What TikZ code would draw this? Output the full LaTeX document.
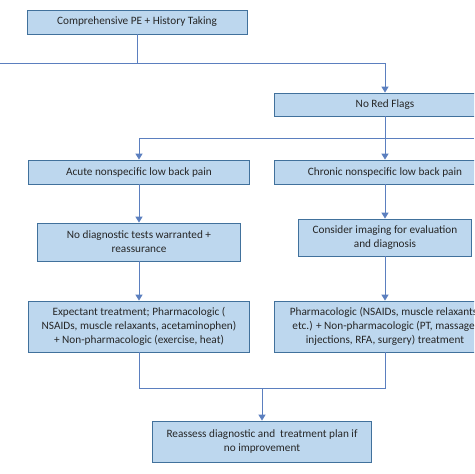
\documentclass[tikz,border=0pt]{standalone}
\usepackage{fontspec}
\setmainfont{Carlito}
\usetikzlibrary{arrows.meta}
\definecolor{boxfill}{HTML}{BDD7EE}
\definecolor{boxline}{HTML}{41719C}
\definecolor{flowline}{HTML}{5B7FBF}
\definecolor{boxtext}{HTML}{262626}

\begin{document}
\begin{tikzpicture}[x=0.03cm,y=-0.03cm,
  stepbox/.style={draw=boxline,fill=boxfill,line width=0.8pt,text=boxtext,
    font=\fontsize{9.6}{11.9}\selectfont,align=center,inner sep=0pt},
  flow/.style={draw=flowline,line width=0.7pt},
  arr/.style={flow,-{Triangle[length=5pt,width=6pt]}}]
  \useasboundingbox (0,0) rectangle (474,474);
  \clip (0,0) rectangle (474,474);

  % boxes
  \node[stepbox,minimum width=6.6cm,minimum height=0.72cm] (exam) at (137,22) {Comprehensive PE + History Taking};
  \node[stepbox,minimum width=6.66cm,minimum height=0.69cm] (nored) at (385,104.5) {No Red Flags};
  \node[stepbox,minimum width=6.63cm,minimum height=0.72cm] (acute) at (139,172) {Acute nonspecific low back pain};
  \node[stepbox,minimum width=6.66cm,minimum height=0.72cm] (chronic) at (385,172) {Chronic nonspecific low back pain};
  \node[stepbox,minimum width=6.09cm,minimum height=1.14cm] (nodiag) at (139,242) {No diagnostic tests warranted +\\reassurance};
  \node[stepbox,minimum width=5.19cm,minimum height=1.11cm] (imaging) at (385,237.5) {Consider imaging for evaluation\\and diagnosis};
  \node[stepbox,minimum width=6.63cm,minimum height=1.53cm] (expect) at (139,326.5) {Expectant treatment; Pharmacologic (\\NSAIDs, muscle relaxants, acetaminophen)\\+ Non-pharmacologic (exercise, heat)};
  \node[stepbox,minimum width=6.66cm,minimum height=1.53cm] (pharm) at (385,326.5) {Pharmacologic (NSAIDs, muscle relaxants,\\etc.) + Non-pharmacologic (PT, massage,\\injections, RFA, surgery) treatment};
  \node[stepbox,minimum width=6.57cm,minimum height=1.23cm] (reassess) at (262,441.5) {Reassess diagnostic and~ treatment plan if\\no improvement};

  % branch points
  \coordinate (splitA) at (137,63);
  \coordinate (edgeL) at (0,63);
  \coordinate (splitB) at (385,138);
  \coordinate (edgeR) at (474,138);
  \coordinate (merge) at (262,388);

  % connectors
  \draw[flow] (exam) -- (splitA);
  \draw[flow] (edgeL) -- (splitA);
  \draw[arr] (splitA) -| (nored);
  \draw[flow] (nored) -- (splitB);
  \draw[flow] (splitB) -- (edgeR);
  \draw[arr] (splitB) -| (acute);
  \draw[arr] (splitB) -- (chronic);
  \draw[arr] (acute) -- (nodiag);
  \draw[arr] (nodiag) -- (expect);
  \draw[arr] (chronic) -- (imaging);
  \draw[arr] (imaging) -- (pharm);
  \draw[flow] (expect) |- (merge);
  \draw[flow] (pharm) |- (merge);
  \draw[arr] (merge) -- (reassess);
\end{tikzpicture}
\end{document}
